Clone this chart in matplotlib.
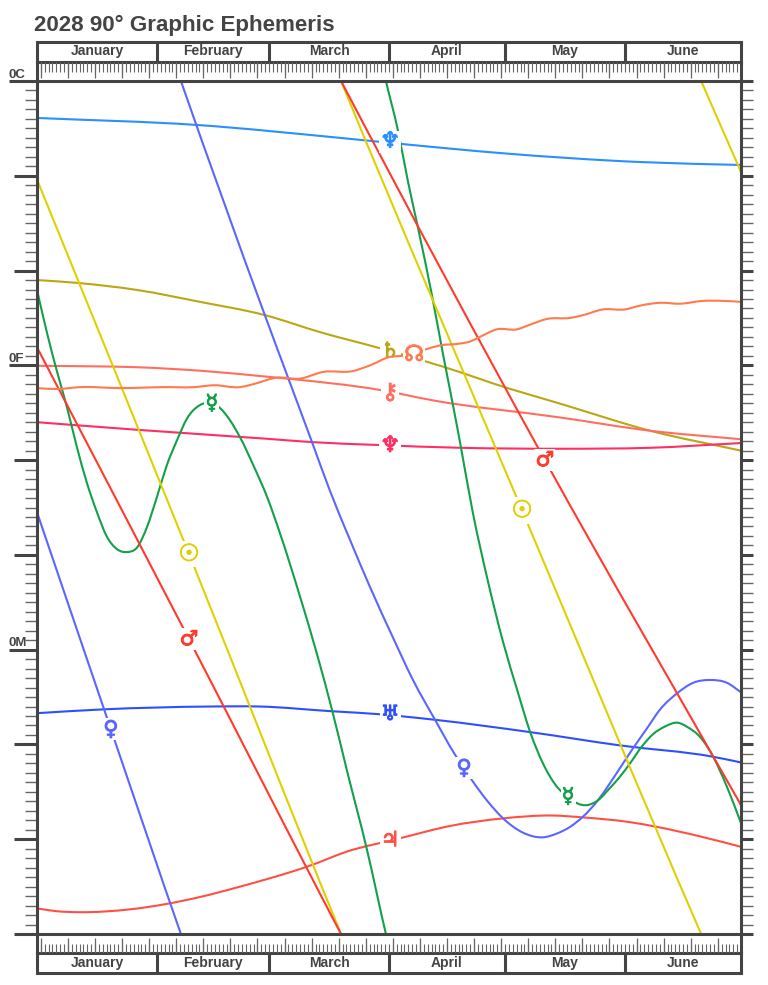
import matplotlib

matplotlib.use("Agg")
import matplotlib.patheffects as pe
import matplotlib.pyplot as plt
import numpy as np
from matplotlib.patches import PathPatch
from matplotlib.path import Path

plt.rcParams["font.family"] = ["Liberation Sans", "DejaVu Sans"]

W, H = 768, 985
LEFT, RIGHT, TOP, BOTTOM = 37, 741, 81, 934
INK = "#444444"
TICK = "#666666"

MONTHS = ["January", "February", "March", "April", "May", "June"]
MONTH_STARTS = [0, 31, 60, 91, 121, 152, 182]
WEEK_TICKS = list(range(1, 182, 7))
DEGREE_LABELS = {0: "0C", 30: "0F", 60: "0M"}

# days since Jan 1, longitude along the 90 degree dial (not wrapped)
sun_days = [0, 39.3, 78.6, 125.4, 171.7, 182]
sun_deg = [10.4, 49.9, 90, 135.3, 180, 189.6]

mars_days = [0, 39.3, 78.6, 131.3, 182]
mars_deg = [28.1, 58.9, 90, 130, 166.4]

venus_days = [0, 19.1, 37.2, 58.9, 64.9, 71.1, 75.7, 80.9, 86.1, 92.0, 97.2, 102.9,
              108.1, 110.4, 112.5, 116.3, 120.5, 125.6, 130.8, 134.4, 137.8, 141.2, 145.0,
              148.1, 150.7, 154.1, 157.7, 161.1, 165.5, 169.6, 174.0, 178.4, 182]
venus_deg = [45.5, 68.4, 90, 114.7, 121.3, 128.1, 133.2, 138.4, 143.4, 148.7, 153.2, 157.4,
             161.1, 162.5, 163.8, 165.9, 167.8, 169.3, 169.8, 169.4, 168.7, 167.6, 165.9,
             164.1, 162.5, 160.4, 158.3, 156.3, 154.6, 153.5, 153.2, 153.5, 154.5]

mercury_days = [0, 2.6, 5.2, 7.8, 10.3, 12.9, 15.5, 18.1, 20.7, 23.3, 25.9, 28.4, 31.0, 33.6,
                36.2, 38.8, 42.1, 45.2, 47.3, 49.9, 52.5, 56.1, 59.5, 62.8, 68.0, 72.4, 76.3,
                80.1, 85.3, 90.2, 93.3, 95.9, 98.5, 102.1, 105.0, 107.3, 109.4, 112.7, 116.3,
                120.5, 124.1, 127.5, 130.8, 134.7, 137.3, 139.6, 142.2, 145.0, 148.1, 150.7,
                153.3, 156.4, 159.3, 162.4, 165.5, 168.3, 171.4, 174.8, 178.4, 182]
mercury_deg = [22.05, 26.6, 30.7, 34.5, 38.6, 42.4, 45.5, 48.1, 49.4, 49.7, 49.2, 47.1, 43.9, 40.5,
               37.9, 35.6, 34.2, 34.0, 34.5, 35.8, 37.6, 40.7, 43.9, 47.7, 54.4, 60.5, 66.4,
               72.7, 81.1, 90.0, 95.2, 100.6, 105.5, 112.6, 118.9, 123.7, 128.2, 135.6, 142.3,
               149.2, 154.2, 158.7, 162.0, 164.6, 165.5, 166.2, 166.4, 165.9, 164.6, 163.4,
               162.0, 160.2, 158.9, 158.1, 157.7, 158.2, 159.2, 161.3, 164.5, 168.3]

neptune_days = [0, 41.4, 78.3, 94.4, 119.7, 155.9, 182]
neptune_deg = [3.9, 4.64, 6.0, 6.65, 7.6, 8.55, 8.86]

saturn_days = [0, 10.3, 25.9, 42.1, 58.9, 73.2, 88.7, 99.8, 110.7, 117.1, 136.5, 158.5, 182]
saturn_deg = [21.0, 21.3, 22.05, 23.3, 24.7, 26.5, 28.2, 29.5, 30.9, 31.8, 34.2, 36.9, 39.0]

node_days = [0, 5.2, 11.1, 21.5, 32.8, 40.6, 45.8, 52.5, 55.8, 62.0, 68.0, 73.9, 81.7, 86.1,
             91.3, 94.4, 99.8, 104.2, 109.4, 111.9, 114.5, 118.9, 124.1, 127.5, 131.9, 137.8,
             141.2, 146.3, 152.0, 155.9, 161.1, 166.2, 172.2, 177.4, 182]
node_deg = [32.4, 32.5, 32.3, 32.4, 32.3, 32.3, 32.1, 32.3, 32.0, 31.3, 31.4, 30.7, 30.6, 30.0,
            29.1, 29.0, 28.4, 27.9, 27.7, 27.5, 27.0, 26.2, 26.2, 25.7, 25.1, 25.0,
            24.7, 24.1, 24.1, 23.7, 23.4, 23.5, 23.2, 23.2, 23.3]

chiron_days = [0, 12.9, 25.9, 43.2, 59.5, 64.6, 88.7, 102.4, 135.2, 158.5, 182]
chiron_deg = [30.05, 30.1, 30.2, 30.6, 31.2, 31.4, 32.6, 33.7, 35.5, 36.9, 37.8]

pluto_days = [0, 25.9, 59.5, 71.1, 87.9, 109.4, 135.2, 158.5, 182]
pluto_deg = [36.0, 36.8, 37.75, 38.1, 38.4, 38.7, 38.8, 38.7, 38.2]

uranus_days = [0, 17.1, 44.7, 57.7, 76.3, 88.2, 102.9, 127.5, 150.7, 174.8, 182]
uranus_deg = [66.7, 66.3, 66.0, 66.0, 66.5, 66.8, 67.4, 68.7, 70.1, 71.3, 71.9]

jupiter_days = [0, 5.2, 11.1, 24.0, 42.1, 52.5, 69.8, 81.7, 88.7, 93.8, 106.8, 120.5, 133.4,
                141.2, 153.3, 160.3, 171.4, 182]
jupiter_deg = [87.3, 87.6, 87.7, 87.4, 86.1, 85.0, 82.9, 81.1, 80.4, 79.9, 78.6, 77.8, 77.5,
               77.7, 78.2, 78.7, 79.7, 80.8]

SERIES = [
    (neptune_days, neptune_deg, "#2a8fff", 2),
    (saturn_days, saturn_deg, "#bba614", 2),
    (chiron_days, chiron_deg, "#ff6f61", 2),
    (node_days, node_deg, "#ff7a4d", 2.6),
    (pluto_days, pluto_deg, "#ff2e63", 2),
    (uranus_days, uranus_deg, "#2e4fff", 2),
    (jupiter_days, jupiter_deg, "#ff5044", 2),
    (venus_days, venus_deg, "#5a66ff", 2),
    (mercury_days, mercury_deg, "#12a04a", 2),
    (sun_days, sun_deg, "#e0d000", 2),
    (mars_days, mars_deg, "#ff3a2e", 2),
]

glyph_signs = ["\u2642", "\u2642", "\u2609", "\u2609", "\u263f", "\u263f", "\u2640", "\u2640",
               "\u2646", "\u2644", "\u260a", "\u26b7", "\u2646", "\u2645", "\u2643"]
glyph_days = [39.3, 131.3, 39.3, 125.4, 45.2, 137.3, 19.1, 110.4, 91.3, 91.3, 97.5, 91.3, 91.3, 91.3, 91.3]
glyph_deg = [58.9, 40.0, 49.9, 45.3, 34.0, 75.5, 68.4, 72.5, 6.4, 28.5, 28.9, 32.9, 38.5, 66.8, 80.1]
glyph_colors = ["#ff3a2e", "#ff3a2e", "#e0d000", "#e0d000", "#12a04a", "#12a04a", "#5a66ff", "#5a66ff",
                "#2a8fff", "#bba614", "#ff7a4d", "#ff6f61", "#ff2e63", "#2e4fff", "#ff5044"]
glyph_sizes = [15, 15, 17, 17, 15, 15, 15, 15, 16, 15, 16, 16, 16, 15, 15]
glyph_layers = [3, 3, 3, 3, 3, 3, 3, 3, 3, 2.3, 3, 3, 3, 3, 3]


def px_axes(fig, left, top, right, bottom):
    ax = fig.add_axes(
        [left / W, 1 - bottom / H, (right - left) / W, (bottom - top) / H]
    )
    ax.set_xlim(0, 182)
    ax.set_xticks([])
    ax.set_yticks([])
    return ax


def curve_path(days, deg):
    days = np.asarray(days, dtype=float)
    deg = np.asarray(deg, dtype=float)
    slopes = np.gradient(deg, days)
    verts = [(days[0], deg[0])]
    codes = [Path.MOVETO]
    for i in range(len(days) - 1):
        step = (days[i + 1] - days[i]) / 3
        verts.append((days[i] + step, deg[i] + slopes[i] * step))
        verts.append((days[i + 1] - step, deg[i + 1] - slopes[i + 1] * step))
        verts.append((days[i + 1], deg[i + 1]))
        codes += [Path.CURVE4, Path.CURVE4, Path.CURVE4]
    return Path(verts, codes)


def month_box(fig, top, bottom, text_y):
    ax = px_axes(fig, LEFT, top, RIGHT, bottom)
    for spine in ax.spines.values():
        spine.set_linewidth(2.2)
        spine.set_color(INK)
    ax.set_ylim(0, 1)
    ax.vlines(MONTH_STARTS[1:-1], 0, 1, color=INK, lw=2.2)
    for i, name in enumerate(MONTHS):
        mid = (MONTH_STARTS[i] + MONTH_STARTS[i + 1]) / 2
        ax.text(mid, text_y, name, ha="center", va="center", fontsize=10, fontweight="bold", color=INK)


def day_ruler(fig, top, bottom, flip):
    ax = px_axes(fig, LEFT, top, RIGHT, bottom)
    ax.axis("off")
    # pixels measured away from the month box
    ax.set_ylim((bottom - top, 0) if not flip else (0, bottom - top))
    ax.vlines(np.arange(1, 182), 0, 9.5, color=TICK, lw=0.8)
    ax.vlines(WEEK_TICKS, 0, 15.5, color=TICK, lw=0.9)
    for x in (0, 182):
        ax.vlines(x, 0, bottom - top, color=INK, lw=2.2, clip_on=False)


def degree_ticks(ax):
    trans = ax.get_yaxis_transform()
    width = RIGHT - LEFT
    for deg in range(0, 91):
        if deg % 10:
            start, lw, color = 25, 1.0, TICK
        elif deg in DEGREE_LABELS:
            start, lw, color = 9, 2.2, INK
        else:
            start, lw, color = 14, 2.2, INK
        stop = 753
        ax.plot([(start - LEFT) / width, 0], [deg, deg], transform=trans, color=color, lw=lw,
                clip_on=False, solid_capstyle="butt", zorder=5)
        ax.plot([1, (stop - LEFT) / width], [deg, deg], transform=trans, color=color, lw=lw,
                clip_on=False, solid_capstyle="butt", zorder=5)
    for deg, label in DEGREE_LABELS.items():
        ax.annotate(label, (0, deg), xycoords=trans, xytext=(-20.2, 2.5), textcoords="offset points",
                    fontsize=9.5, fontweight="bold", color=INK, ha="left", va="baseline")


fig = plt.figure(figsize=(W / 100, H / 100), dpi=100)
fig.text(34 / W, 1 - 31 / H, "2028 90\u00b0 Graphic Ephemeris", fontsize=16.1, fontweight="bold",
         color=INK, ha="left", va="baseline")

ax = px_axes(fig, LEFT, TOP, RIGHT, BOTTOM)
ax.set_ylim(90, 0)
for spine in ax.spines.values():
    spine.set_linewidth(2.2)
    spine.set_color(INK)
    spine.set_zorder(6)

for days, deg, color, layer in SERIES:
    for turn in range(3):
        shifted = np.asarray(deg) - 90 * turn
        ax.add_patch(PathPatch(curve_path(days, shifted), fc="none", ec=color, lw=1.5, zorder=layer))

for sign, day, deg, color, size, layer in zip(glyph_signs, glyph_days, glyph_deg, glyph_colors,
                                             glyph_sizes, glyph_layers):
    ax.text(day, deg, sign, ha="center", va="center", fontsize=size, color=color,
            family=["DejaVu Sans"], zorder=layer,
            path_effects=[pe.withStroke(linewidth=0.7, foreground=color)],
            bbox=dict(boxstyle="square,pad=0.05", fc="white", ec="none"))

degree_ticks(ax)
month_box(fig, 42, 62, 0.55)
month_box(fig, 953, 973, 0.48)
day_ruler(fig, 62, 81, flip=False)
day_ruler(fig, 934, 953, flip=True)

fig.savefig("out.png", dpi=100)
plt.close(fig)
